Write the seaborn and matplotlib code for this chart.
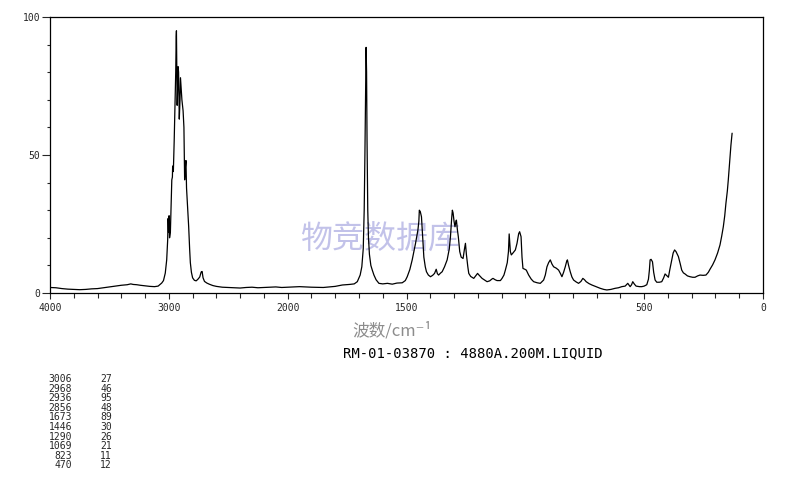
import numpy as np
import pandas as pd
import matplotlib
matplotlib.use("Agg")
import matplotlib.pyplot as plt
import seaborn as sns

# Raman spectrum (wavenumber cm-1, relative intensity)
wavenumber = [
    4000, 3950, 3900, 3850, 3800, 3750, 3700, 3650, 3600, 3550, 3500, 3450, 3400, 3350, 3320, 3300,
    3270, 3240, 3200, 3160, 3120, 3090, 3060, 3045, 3030, 3018, 3010, 3006, 3002, 2998, 2994, 2987,
    2980, 2975, 2970, 2968, 2962, 2955, 2948, 2942, 2938, 2936, 2933, 2930, 2926, 2922, 2918, 2912,
    2906, 2902, 2896, 2890, 2880, 2873, 2867, 2862, 2856, 2851, 2843, 2833, 2825, 2819, 2810, 2800,
    2785, 2770, 2755, 2740, 2728, 2720, 2712, 2700, 2680, 2660, 2630, 2600, 2550, 2500, 2450, 2400,
    2350, 2300, 2250, 2200, 2150, 2100, 2050, 2000, 1950, 1900, 1850, 1800, 1770, 1740, 1720, 1707,
    1695, 1688, 1682, 1678, 1675, 1672, 1670, 1668, 1666, 1663, 1660, 1656, 1650, 1644, 1637, 1628,
    1616, 1600, 1580, 1560, 1540, 1518, 1505, 1497, 1486, 1476, 1462, 1452, 1448, 1446, 1442, 1437,
    1432, 1427, 1421, 1416, 1408, 1399, 1390, 1382, 1375, 1370, 1365, 1357, 1350, 1340, 1329, 1320,
    1315, 1310, 1307, 1304, 1300, 1296, 1292, 1290, 1286, 1282, 1276, 1270, 1262, 1256, 1252, 1248,
    1242, 1238, 1230, 1217, 1208, 1201, 1195, 1182, 1170, 1161, 1150, 1140, 1136, 1127, 1119, 1105,
    1098, 1090, 1084, 1076, 1071, 1068, 1066, 1063, 1059, 1052, 1042, 1035, 1028, 1024, 1018, 1014,
    1010, 1002, 996, 986, 975, 965, 950, 937, 923, 916, 909, 902, 895, 888, 881, 870,
    860, 852, 846, 839, 832, 826, 823, 818, 811, 804, 797, 786, 776, 766, 758, 751,
    744, 732, 720, 700, 685, 670, 657, 640, 622, 608, 594, 580, 569, 564, 559, 553,
    548, 541, 534, 520, 510, 500, 489, 482, 478, 475, 471, 465, 460, 454, 447, 436,
    426, 418, 412, 405, 398, 392, 384, 378, 372, 366, 356, 348, 342, 335, 328, 318,
    307, 296, 286, 275, 265, 252, 240, 230, 223, 212, 202, 191, 181, 174, 167, 161,
    156, 150, 146, 142, 139, 135, 130,
]
intensity = [
    2.0, 1.9, 1.6, 1.4, 1.3, 1.2, 1.3, 1.5, 1.6, 1.9, 2.2, 2.5, 2.8, 3.0, 3.3, 3.1,
    3.0, 2.8, 2.6, 2.4, 2.3, 2.5, 3.6, 4.5, 7.2, 12, 19, 27, 22, 28, 20, 22,
    33, 41, 42, 46, 44, 55, 68, 80, 93, 95, 80, 68, 74, 82, 80, 63,
    70, 78, 74, 70, 66, 60, 41, 45, 48, 38, 32, 24, 16, 11, 7.5, 5.5,
    4.6, 4.4, 5.0, 5.8, 7.6, 7.8, 5.5, 4.2, 3.6, 3.2, 2.7, 2.4, 2.1, 2.0, 1.9, 1.8,
    2.0, 2.1, 1.9, 2.0, 2.1, 2.2, 2.0, 2.1, 2.3, 2.1, 2.0, 2.4, 2.9, 3.1, 3.3, 4.1,
    6.5, 9.5, 16, 30, 50, 75, 89, 80, 55, 30, 20, 14, 10, 8.3, 6.5, 4.8,
    3.5, 3.3, 3.5, 3.2, 3.6, 3.7, 4.5, 5.9, 8.5, 12, 18, 22.8, 26, 30, 29.5, 27.6,
    20, 13, 9.5, 7.7, 6.5, 5.9, 6.4, 7.1, 8.6, 7.0, 6.5, 7.2, 7.7, 9.5, 12, 16,
    20.4, 27, 30, 29, 26, 24, 26, 26.4, 23, 20.4, 15, 13, 12.5, 16, 18, 14,
    9.5, 7.1, 6.0, 5.3, 6.3, 7.1, 6.5, 5.3, 4.6, 4.1, 4.4, 5.1, 5.3, 4.8, 4.5, 4.5,
    5.3, 6.5, 8.3, 11, 15, 21.4, 19, 15, 13.8, 14.5, 15.6, 18, 21.5, 22.2, 20.4, 13,
    8.9, 8.6, 8.3, 6.5, 5.0, 4.1, 3.7, 3.5, 4.7, 6.5, 9.5, 11, 12, 10.5, 9.5, 9.0,
    8.3, 7.0, 5.9, 7.5, 9.5, 11.5, 12, 10, 7.7, 5.8, 4.7, 4.0, 3.5, 4.2, 5.3, 4.8,
    4.1, 3.4, 2.9, 2.2, 1.7, 1.3, 1.1, 1.3, 1.7, 1.9, 2.3, 2.5, 3.5, 2.9, 2.3, 3.0,
    4.1, 3.2, 2.5, 2.3, 2.3, 2.5, 3.0, 5.0, 8.3, 12, 12.2, 11.3, 7.5, 4.7, 3.9, 3.9,
    4.1, 5.5, 6.9, 6.3, 5.7, 8.5, 12, 14.5, 15.6, 15, 13.2, 10.5, 8.3, 7.3, 6.9, 6.2,
    5.9, 5.7, 5.7, 6.2, 6.5, 6.4, 6.5, 7.5, 8.6, 10.2, 12, 14.5, 17.4, 20.5, 24, 28,
    32.5, 37, 41, 45.5, 49.4, 53.5, 57.9,
]

# peak table printed under the chart
peak_wn = ["3006", "2968", "2936", "2856", "1673", "1446", "1290", "1069", "823", "470"]
peak_int = ["27", "46", "95", "48", "89", "30", "26", "21", "11", "12"]

x_major = [4000, 3000, 2000, 1500, 500, 0]
x_minor = list(range(3800, 2000, -200)) + [1900, 1800, 1700, 1600] + list(range(1400, 500, -100)) + [400, 300, 200, 100]
y_major = [0, 50, 100]
y_minor = [10, 20, 30, 40, 60, 70, 80, 90]

df = pd.DataFrame({"wavenumber": wavenumber, "intensity": intensity})

sns.set_style("ticks")
mono = "DejaVu Sans Mono"


# region above 2000 cm-1 is drawn at half scale
def fwd(v):
    v = np.asarray(v, dtype=float)
    return np.where(v <= 2000, v, 2000 + (v - 2000) / 2)


def inv(p):
    p = np.asarray(p, dtype=float)
    return np.where(p <= 2000, p, 2000 + (p - 2000) * 2)


fig = plt.figure(figsize=(7.94, 4.82), dpi=100)
ax = fig.add_axes([50 / 794, 1 - 293 / 482, 713 / 794, 276 / 482])
ax.set_xscale("function", functions=(fwd, inv))

sns.lineplot(data=df, x="wavenumber", y="intensity", sort=False, color="black",
             linewidth=0.9, ax=ax, zorder=3)

ax.set_xlim(4000, 0)
ax.set_ylim(0, 100)
ax.set_xticks(x_major)
ax.set_xticklabels([str(v) for v in x_major], family=mono, fontsize=7)
ax.set_xticks(x_minor, minor=True)
ax.set_yticks(y_major)
ax.set_yticklabels([str(v) for v in y_major], family=mono, fontsize=7)
ax.set_yticks(y_minor, minor=True)
ax.tick_params(axis="x", which="major", length=4.5, width=0.8, pad=2.5, direction="out")
ax.tick_params(axis="x", which="minor", length=3.5, width=0.8, direction="out")
ax.tick_params(axis="y", which="major", length=5.5, width=0.8, pad=1.5, direction="out")
ax.tick_params(axis="y", which="minor", length=2.5, width=0.8, direction="out")
ax.set_xlabel("")
ax.set_ylabel("")
for sp in ax.spines.values():
    sp.set_visible(True)
    sp.set_linewidth(0.9)
    sp.set_color("black")

# watermark behind the trace
ax.text(380 / 794, 1 - 240 / 482, "物竞数据库", transform=fig.transFigure,
        family=["Noto Sans CJK SC", "DejaVu Sans"], fontsize=23, color="#b8b8e6",
        alpha=0.85, ha="center", va="center", zorder=1)

fig.text(392 / 794, 1 - 331 / 482, "波数/cm⁻¹", family=["Noto Sans CJK SC", "DejaVu Sans"],
         fontsize=12, color="#8c8c8c", ha="center", va="center")
fig.text(343 / 794, 1 - 353 / 482, "RM-01-03870 : 4880A.200M.LIQUID", family=mono,
         fontsize=10, color="black", ha="left", va="center")

for i, (w, v) in enumerate(zip(peak_wn, peak_int)):
    yy = 1 - (379 + 9.6 * i) / 482
    fig.text(72 / 794, yy, w, family=mono, fontsize=7, ha="right", va="center")
    fig.text(112 / 794, yy, v, family=mono, fontsize=7, ha="right", va="center")

fig.savefig("out.png", dpi=100)
